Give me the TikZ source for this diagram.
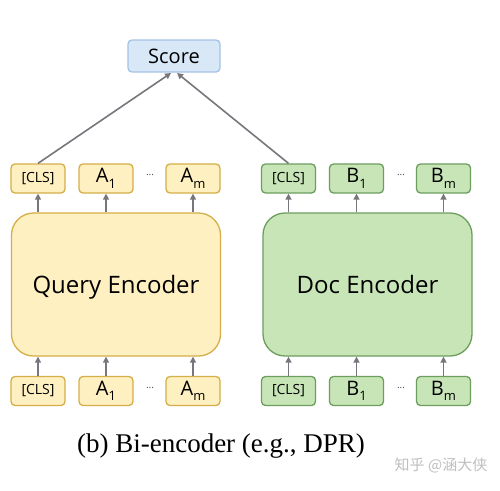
\documentclass[tikz,border=0pt]{standalone}
\usepackage{fontspec}
\setmainfont{Open Sans}
\newfontfamily\capfont{Liberation Serif}
\newfontfamily\cjkfont{Noto Sans CJK SC}
\usetikzlibrary{arrows.meta}
\definecolor{yfill}{HTML}{FFF0C2}
\definecolor{ydraw}{HTML}{D4AF47}
\definecolor{gfill}{HTML}{C8E5B8}
\definecolor{gdraw}{HTML}{6C9E5E}
\definecolor{bfill}{HTML}{D8E8F7}
\definecolor{bdraw}{HTML}{A4C2E4}
\definecolor{arr}{HTML}{78767C}
\newcommand{\sbs}[1]{\raisebox{-0.28em}{\fontsize{13}{13}\selectfont #1}}
\begin{document}
\begin{tikzpicture}[x=1pt,y=-1pt,
  tok/.style={draw=#1, line width=1.3pt, rounded corners=4pt, minimum width=54pt, minimum height=29pt, inner sep=0pt, font=\fontsize{20}{20}\selectfont},
  ytok/.style={tok=ydraw, fill=yfill},
  gtok/.style={tok=gdraw, fill=gfill},
  enc/.style={draw=#1, line width=1.3pt, rounded corners=22pt, minimum width=209pt, minimum height=143pt, inner sep=0pt, font=\fontsize{24}{24}\selectfont},
  up/.style={draw=arr, line width=1.6pt, -{Triangle[length=6pt,width=6pt]}},
  dots/.style={font=\fontsize{10}{10}\selectfont, text=black!70},
  cls/.style={font=\fontsize{14}{14}\selectfont}
]
\useasboundingbox (0,0) rectangle (500,490);
\fill[white] (0,0) rectangle (500,490);

% Score
\node[draw=bdraw, fill=bfill, line width=1.3pt, rounded corners=4pt, minimum width=92pt, minimum height=32pt, inner sep=0pt, font=\fontsize{20}{20}\selectfont] (score) at (174,56) {Score};

% Query side
\node[enc=ydraw, fill=yfill, text depth=-3pt] (qenc) at (116,284.5) {Query Encoder};
\node[ytok, cls] (qcls) at (38,178.5) {[CLS]};
\node[ytok] (qa1) at (106,178.5) {A\sbs{1}};
\node[ytok] (qam) at (193,178.5) {A\sbs{m}};
\node[dots] (qd) at (150,175) {...};
\node[ytok, cls] (qcls2) at (38,391) {[CLS]};
\node[ytok] (qa12) at (106,391) {A\sbs{1}};
\node[ytok] (qam2) at (193,391) {A\sbs{m}};
\node[dots] (qd2) at (150,388) {...};

% Doc side
\node[enc=gdraw, fill=gfill] (denc) at (367.5,284.5) {Doc Encoder};
\node[gtok, cls] (dcls) at (288.5,178.5) {[CLS]};
\node[gtok] (db1) at (356.5,178.5) {B\sbs{1}};
\node[gtok] (dbm) at (443.5,178.5) {B\sbs{m}};
\node[dots] (dd) at (401,175) {...};
\node[gtok, cls] (dcls2) at (288.5,391) {[CLS]};
\node[gtok] (db12) at (356.5,391) {B\sbs{1}};
\node[gtok] (dbm2) at (443.5,391) {B\sbs{m}};
\node[dots] (dd2) at (401,388) {...};

% arrows encoder -> top tokens
\foreach \t in {qcls,qa1,qam}{
  \draw[up] (\t.south |- qenc.north) -- (\t.south);
}
\foreach \t in {dcls,db1,dbm}{
  \draw[up] (\t.south |- denc.north) -- (\t.south);
}
% arrows bottom tokens -> encoder
\foreach \t in {qcls2,qa12,qam2}{
  \draw[up] (\t.north) -- (\t.north |- qenc.south);
}
\foreach \t in {dcls2,db12,dbm2}{
  \draw[up] (\t.north) -- (\t.north |- denc.south);
}

% to score
\coordinate (sl) at (171,73);
\coordinate (sr) at (177,73);
\draw[up] (qcls.north) -- (sl);
\draw[up] (dcls.north) -- (sr);

% caption
\node[font=\capfont\fontsize{27}{27}\selectfont] (cap) at (221,446) {(b) Bi-encoder (e.g., DPR)};
\node[font=\cjkfont\fontsize{15}{15}\selectfont, text=black!25] (wm) at (441,465) {知乎 @涵大侠};
\end{tikzpicture}
\end{document}
